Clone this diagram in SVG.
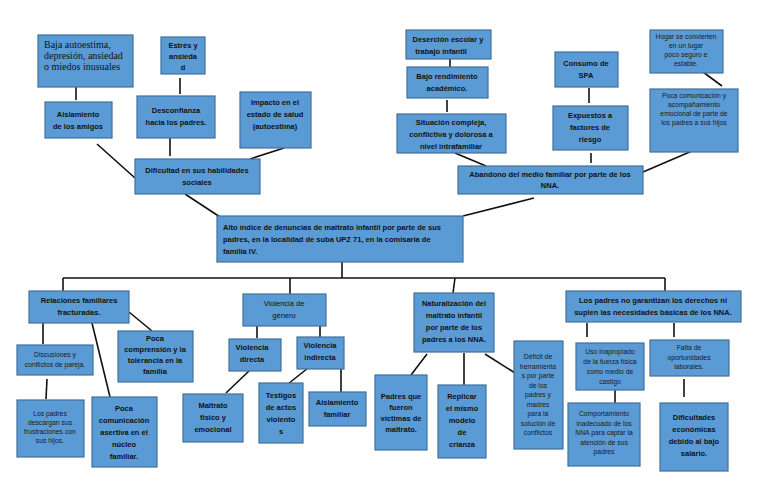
<svg xmlns="http://www.w3.org/2000/svg" width="768" height="503" viewBox="0 0 768 503">
<style>
rect{fill:#5b9bd5;stroke:#41719c;stroke-width:1.2}
text{font-family:"Liberation Sans",Arial,sans-serif;font-size:7.5px;fill:#111;text-anchor:middle}
.b{font-weight:bold}
.r{font-size:6.8px;fill:#1a1a1a}
.s{font-family:"Liberation Serif","Times New Roman",serif;font-size:10px;text-anchor:start}
#conn line{stroke:#111;stroke-width:1.6}
</style>
<rect x="0" y="0" width="768" height="503" style="fill:#fff;stroke:none"/>
<g id="conn">
<line x1="76" y1="87" x2="76" y2="100"/>
<line x1="180" y1="78" x2="180" y2="94"/>
<line x1="97" y1="144" x2="135" y2="178"/>
<line x1="170" y1="138" x2="170" y2="156"/>
<line x1="284" y1="148" x2="250" y2="159"/>
<line x1="185" y1="194" x2="220" y2="217"/>
<line x1="450" y1="59" x2="450" y2="67"/>
<line x1="447" y1="100" x2="447" y2="112"/>
<line x1="455" y1="153" x2="486" y2="166"/>
<line x1="589" y1="88" x2="589" y2="103"/>
<line x1="591" y1="153" x2="591" y2="163"/>
<line x1="703" y1="72" x2="722" y2="86"/>
<line x1="699" y1="148" x2="643" y2="172"/>
<line x1="534" y1="198" x2="463" y2="216"/>
<line x1="342" y1="262" x2="342" y2="278"/>
<line x1="63" y1="278" x2="665" y2="278"/>
<line x1="63" y1="278" x2="63" y2="291"/>
<line x1="290" y1="278" x2="290" y2="294"/>
<line x1="455" y1="278" x2="453" y2="293"/>
<line x1="665" y1="278" x2="665" y2="291"/>
<line x1="43" y1="323" x2="43" y2="344"/>
<line x1="47" y1="379" x2="46" y2="399"/>
<line x1="92" y1="323" x2="110" y2="397"/>
<line x1="129" y1="312" x2="152" y2="331"/>
<line x1="257" y1="326" x2="257" y2="338"/>
<line x1="320" y1="326" x2="320" y2="337"/>
<line x1="250" y1="370" x2="226" y2="393"/>
<line x1="308" y1="368" x2="288" y2="384"/>
<line x1="341" y1="367" x2="341" y2="392"/>
<line x1="427" y1="354" x2="411" y2="375"/>
<line x1="464" y1="353" x2="464" y2="385"/>
<line x1="485" y1="354" x2="515" y2="373"/>
<line x1="587" y1="323" x2="587" y2="337"/>
<line x1="615" y1="390" x2="615" y2="403"/>
<line x1="674" y1="323" x2="674" y2="337"/>
<line x1="684" y1="379" x2="684" y2="397"/>
</g>
<g id="n_baja"><rect x="38" y="35" width="95" height="52"/><text class="s" x="44" y="48"><tspan x="44">Baja autoestima,</tspan><tspan x="44" dy="11">depresión, ansiedad</tspan><tspan x="44" dy="11">o miedos inusuales</tspan></text></g>
<g id="n_estres"><rect x="161" y="37" width="44" height="37"/><text class="b" x="183" y="48"><tspan x="183">Estrés y</tspan><tspan x="183" dy="11">ansieda</tspan><tspan x="183" dy="11">d</tspan></text></g>
<g id="n_aisl"><rect x="45" y="102" width="67" height="36"/><text class="b" x="78" y="117"><tspan x="78">Aislamiento</tspan><tspan x="78" dy="12">de los amigos</tspan></text></g>
<g id="n_desc"><rect x="137" y="96" width="78" height="42"/><text class="b" x="176" y="113"><tspan x="176">Desconfianza</tspan><tspan x="176" dy="12">hacia los padres.</tspan></text></g>
<g id="n_imp"><rect x="240" y="92" width="71" height="56"/><text class="b" x="275" y="105"><tspan x="275">Impacto en el</tspan><tspan x="275" dy="12">estado de salud</tspan><tspan x="275" dy="12">(autoestima)</tspan></text></g>
<g id="n_dif"><rect x="135" y="159" width="125" height="35"/><text class="b" x="197" y="173"><tspan x="197">Dificultad en sus habilidades</tspan><tspan x="197" dy="12">sociales</tspan></text></g>
<g id="n_des"><rect x="406" y="30" width="85" height="29"/><text class="b" x="448" y="42"><tspan x="448">Deserción escolar y</tspan><tspan x="441" dy="12">trabajo infantil</tspan></text></g>
<g id="n_bajo"><rect x="407" y="67" width="81" height="31"/><text class="b" x="447" y="79"><tspan x="447">Bajo rendimiento</tspan><tspan x="447" dy="12">académico.</tspan></text></g>
<g id="n_sit"><rect x="397" y="114" width="109" height="39"/><text class="b" x="451" y="125"><tspan x="451">Situación compleja,</tspan><tspan x="451" dy="12">conflictiva y dolorosa a</tspan><tspan x="451" dy="12">nivel intrafamiliar</tspan></text></g>
<g id="n_spa"><rect x="555" y="52" width="63" height="35"/><text class="b" x="586" y="66"><tspan x="586">Consumo de</tspan><tspan x="586" dy="12">SPA</tspan></text></g>
<g id="n_exp"><rect x="553" y="106" width="75" height="44"/><text class="b" x="590" y="118"><tspan x="590">Expuestos a</tspan><tspan x="590" dy="12">factores de</tspan><tspan x="590" dy="12">riesgo</tspan></text></g>
<g id="n_hog"><rect x="650" y="30" width="73" height="43"/><text class="r" x="686" y="39"><tspan x="686">Hogar se convierten</tspan><tspan x="686" dy="9">en un lugar</tspan><tspan x="686" dy="9">poco seguro e</tspan><tspan x="686" dy="9">estable.</tspan></text></g>
<g id="n_poca1"><rect x="650" y="89" width="88" height="63"/><text class="r" x="694" y="98"><tspan x="694">Poca comunicación y</tspan><tspan x="694" dy="9">acompañamiento</tspan><tspan x="694" dy="9">emocional de parte de</tspan><tspan x="694" dy="9">los padres a sus hijos</tspan></text></g>
<g id="n_aban"><rect x="458" y="166" width="185" height="28"/><text class="b" x="550" y="177"><tspan x="550">Abandono del medio familiar por parte de los</tspan><tspan x="550" dy="11">NNA.</tspan></text></g>
<g id="n_central"><rect x="217" y="216" width="246" height="46"/><text class="b" x="223" y="230" style="text-anchor:start"><tspan x="223">Alto índice de denuncias de maltrato infantil por parte de sus</tspan><tspan x="223" dy="12">padres, en la localidad de suba UPZ 71, en la comisaría de</tspan><tspan x="223" dy="12">familia IV.</tspan></text></g>
<g id="n_rel"><rect x="29" y="291" width="100" height="32"/><text class="b" x="79" y="303"><tspan x="79">Relaciones familiares</tspan><tspan x="79" dy="12">fracturadas.</tspan></text></g>
<g id="n_disc"><rect x="17" y="345" width="76" height="30"/><text class="r" x="55" y="357"><tspan x="55">Discusiones y</tspan><tspan x="55" dy="10">conflictos de pareja.</tspan></text></g>
<g id="n_desca"><rect x="17" y="400" width="67" height="57"/><text class="r" x="50" y="416"><tspan x="50">Los padres</tspan><tspan x="50" dy="9">descargan sus</tspan><tspan x="50" dy="9">frustraciones con</tspan><tspan x="50" dy="9">sus hijos.</tspan></text></g>
<g id="n_pcom"><rect x="92" y="397" width="65" height="70"/><text class="b" x="124" y="411"><tspan x="124">Poca</tspan><tspan x="124" dy="12">comunicación</tspan><tspan x="124" dy="12">asertiva en el</tspan><tspan x="124" dy="12">núcleo</tspan><tspan x="124" dy="12">familiar.</tspan></text></g>
<g id="n_pcomp"><rect x="118" y="331" width="75" height="51"/><text class="b" x="155" y="341"><tspan x="155">Poca</tspan><tspan x="155" dy="11">comprensión y la</tspan><tspan x="155" dy="11">tolerancia en la</tspan><tspan x="155" dy="11">familia</tspan></text></g>
<g id="n_vg"><rect x="243" y="294" width="83" height="32"/><text x="284" y="306"><tspan x="284">Violencia de</tspan><tspan x="284" dy="12">género</tspan></text></g>
<g id="n_vd"><rect x="229" y="339" width="52" height="32"/><text class="b" x="255" y="350"><tspan x="252">Violencia</tspan><tspan x="252" dy="12">directa</tspan></text></g>
<g id="n_vi"><rect x="297" y="337" width="47" height="32"/><text class="b" x="320" y="348"><tspan x="320">Violencia</tspan><tspan x="320" dy="12">indirecta</tspan></text></g>
<g id="n_malt"><rect x="183" y="394" width="60" height="48"/><text class="b" x="213" y="408"><tspan x="213">Maltrato</tspan><tspan x="213" dy="12">físico y</tspan><tspan x="213" dy="12">emocional</tspan></text></g>
<g id="n_test"><rect x="259" y="383" width="44" height="60"/><text class="b" x="281" y="398"><tspan x="281">Testigos</tspan><tspan x="281" dy="12">de actos</tspan><tspan x="281" dy="12">violento</tspan><tspan x="281" dy="12">s</tspan></text></g>
<g id="n_aisf"><rect x="309" y="392" width="57" height="34"/><text class="b" x="337" y="405"><tspan x="337">Aislamiento</tspan><tspan x="337" dy="12">familiar</tspan></text></g>
<g id="n_nat"><rect x="414" y="293" width="80" height="59"/><text class="b" x="454" y="306"><tspan x="454">Naturalización del</tspan><tspan x="454" dy="12">maltrato infantil</tspan><tspan x="454" dy="12">por parte de los</tspan><tspan x="454" dy="12">padres a los NNA.</tspan></text></g>
<g id="n_pq"><rect x="375" y="375" width="52" height="75"/><text class="b" x="401" y="399"><tspan x="401">Padres que</tspan><tspan x="401" dy="11">fueron</tspan><tspan x="401" dy="11">víctimas de</tspan><tspan x="401" dy="11">maltrato.</tspan></text></g>
<g id="n_rep"><rect x="438" y="385" width="48" height="73"/><text class="b" x="462" y="399"><tspan x="462">Replicar</tspan><tspan x="462" dy="12">el mismo</tspan><tspan x="462" dy="12">modelo</tspan><tspan x="462" dy="12">de</tspan><tspan x="462" dy="12">crianza</tspan></text></g>
<g id="n_def"><rect x="514" y="341" width="49" height="108"/><text class="r" x="538" y="359"><tspan x="538">Déficit de</tspan><tspan x="538" dy="9.5">herramienta</tspan><tspan x="538" dy="9.5">s por parte</tspan><tspan x="538" dy="9.5">de los</tspan><tspan x="538" dy="9.5">padres y</tspan><tspan x="538" dy="9.5">madres</tspan><tspan x="538" dy="9.5">para la</tspan><tspan x="538" dy="9.5">solución de</tspan><tspan x="538" dy="9.5">conflictos</tspan></text></g>
<g id="n_lpn"><rect x="566" y="291" width="175" height="31"/><text class="b" x="653" y="303"><tspan x="653">Los padres no garantizan los derechos ni</tspan><tspan x="653" dy="12">suplen las necesidades básicas de los NNA.</tspan></text></g>
<g id="n_uso"><rect x="576" y="343" width="68" height="47"/><text class="r" x="610" y="354"><tspan x="610">Uso inapropiado</tspan><tspan x="610" dy="10">de la fuerza física</tspan><tspan x="610" dy="10">como medio de</tspan><tspan x="610" dy="10">castigo</tspan></text></g>
<g id="n_comp"><rect x="568" y="403" width="72" height="63"/><text class="r" x="604" y="416"><tspan x="604">Comportamiento</tspan><tspan x="604" dy="9.5">inadecuado de los</tspan><tspan x="604" dy="9.5">NNA para captar la</tspan><tspan x="604" dy="9.5">atención de sus</tspan><tspan x="604" dy="9.5">padres</tspan></text></g>
<g id="n_falta"><rect x="650" y="340" width="79" height="36"/><text class="r" x="689" y="350"><tspan x="689">Falta de</tspan><tspan x="689" dy="9.5">oportunidades</tspan><tspan x="689" dy="9.5">laborales.</tspan></text></g>
<g id="n_difeco"><rect x="660" y="403" width="68" height="68"/><text class="b" x="694" y="420"><tspan x="694">Dificultades</tspan><tspan x="694" dy="12">económicas</tspan><tspan x="694" dy="12">debido al bajo</tspan><tspan x="694" dy="12">salario.</tspan></text></g>
</svg>
